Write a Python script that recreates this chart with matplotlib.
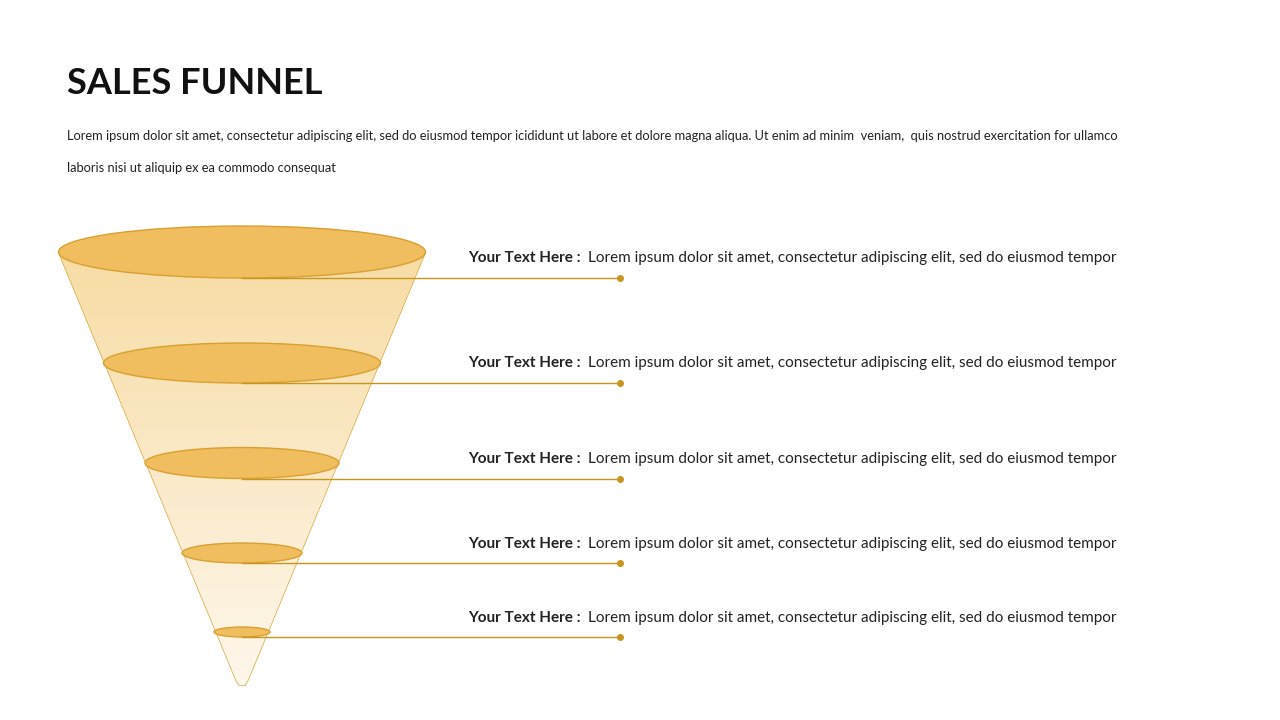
import numpy as np
import matplotlib.pyplot as plt
from matplotlib.patches import Ellipse, Polygon
from matplotlib.colors import LinearSegmentedColormap

plt.rcParams['font.family'] = ['Lato', 'DejaVu Sans']

# funnel levels (pixel layout of the slide)
level_y = [252, 363, 463, 553, 632]
level_w = [367, 277, 194, 120, 56]
level_h = [52, 40, 31, 20, 10]
label_y = [258, 363, 459, 544, 618]
labels = ["Your Text Here :"] * 5
body = "Lorem ipsum dolor sit amet, consectetur adipiscing elit, sed do eiusmod tempor"

fig = plt.figure(figsize=(12.8, 7.2), dpi=100)
ax = fig.add_axes([0, 0, 1, 1])
ax.set_xlim(0, 1280)
ax.set_ylim(720, 0)
ax.axis('off')

ax.text(67, 84, "SALES FUNNEL", fontsize=26, fontweight='bold', va='center', color='#111111')
ax.text(67, 136, "Lorem ipsum dolor sit amet, consectetur adipiscing elit, sed do eiusmod tempor icididunt ut labore et dolore magna aliqua. Ut enim ad minim  veniam,  quis nostrud exercitation for ullamco",
        fontsize=9.3, va='center', color='#222222')
ax.text(67, 168, "laboris nisi ut aliquip ex ea commodo consequat", fontsize=9.3, va='center', color='#222222')

cx = 242
cone = [(cx - level_w[0] / 2, level_y[0]), (cx + level_w[0] / 2, level_y[0]),
        (cx + 6, 680), (cx + 3, 685), (cx - 3, 685), (cx - 6, 680)]
poly = Polygon(cone, closed=True, facecolor='none', edgecolor='#D9A535', lw=1)
ax.add_patch(poly)
cmap = LinearSegmentedColormap.from_list('f', ['#F7DCA4', '#FEF7EC'])
grad = np.linspace(0, 1, 256).reshape(-1, 1)
im = ax.imshow(grad, cmap=cmap, extent=(cx - 190, cx + 190, 686, level_y[0]), aspect='auto', zorder=1)
im.set_clip_path(poly)
ax.set_xlim(0, 1280)
ax.set_ylim(720, 0)

for y, w, h, ly, lab in zip(level_y, level_w, level_h, label_y, labels):
    ax.add_patch(Ellipse((cx, y), w, h, facecolor='#F0BE5E', edgecolor='#D9A030', lw=1, zorder=3))
    ax.plot([cx, 620], [y + h / 2, y + h / 2], color='#C8961E', lw=1, zorder=4)
    ax.plot(620, y + h / 2, 'o', color='#C8961E', ms=4, zorder=5)
    ax.text(468, ly, lab, fontsize=11, fontweight='bold', va='center', color='#222222')
    ax.text(588, ly, body, fontsize=11, va='center', color='#222222')

fig.savefig("out.png", dpi=100)
